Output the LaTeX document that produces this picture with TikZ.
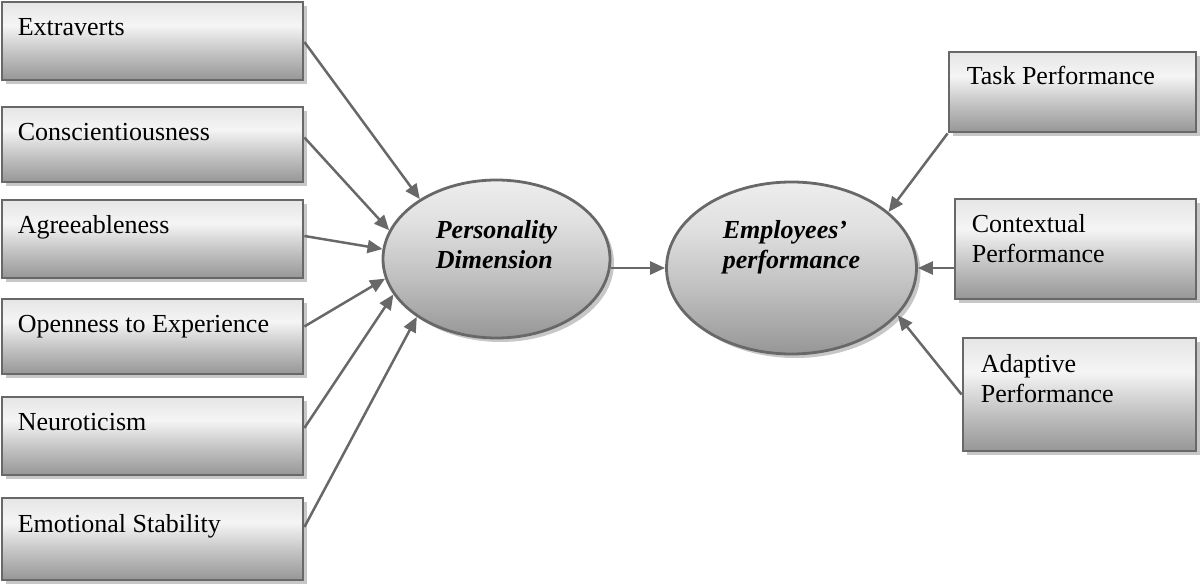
\documentclass[tikz,border=0pt]{standalone}
\usepackage{fontspec}
\setmainfont{Liberation Serif}
\usetikzlibrary{shapes.geometric,arrows.meta,shadows,calc}
\definecolor{bordc}{RGB}{104,104,104}
\definecolor{arrc}{RGB}{104,104,104}
\definecolor{shadc}{RGB}{185,185,185}
\pgfdeclareverticalshading{boxshade}{100bp}{color(0bp)=(gray!82); color(25bp)=(gray!82); color(42bp)=(gray!48); color(60bp)=(white!96!black); color(75bp)=(gray!20); color(100bp)=(gray!20)}
\pgfdeclareverticalshading{ellshade}{100bp}{color(0bp)=(gray!82); color(25bp)=(gray!82); color(45bp)=(gray!48); color(62bp)=(white!88!black); color(75bp)=(white!93!black); color(100bp)=(white!93!black)}
\tikzset{
  box/.style={draw=bordc, line width=2.8pt, shading=boxshade, rectangle, inner sep=0pt,
    drop shadow={shadow xshift=4pt, shadow yshift=-4pt, fill=shadc, opacity=0.8}},
  ell/.style={draw=bordc, line width=2.8pt, shading=ellshade, ellipse, inner sep=0pt,
    drop shadow={shadow xshift=4pt, shadow yshift=-4pt, fill=shadc, opacity=0.8}},
  btext/.style={anchor=base west, inner sep=0pt, align=left, font=\fontsize{26}{30}\selectfont},
  etext/.style={inner sep=0pt, align=left, font=\fontsize{26}{30}\selectfont\bfseries\itshape},
  arr/.style={draw=arrc, line width=2.5pt, -{Triangle[length=15pt,width=13pt]}, arrc},
}
\begin{document}
\begin{tikzpicture}[x=1pt,y=-1pt]
\useasboundingbox (0,0) rectangle (1200,588);
% left boxes
\node[box, minimum width=301pt, minimum height=78pt] (b1) at (152.5,41) {};
\node[box, minimum width=301pt, minimum height=75pt] (b2) at (152.5,144.5) {};
\node[box, minimum width=301pt, minimum height=78pt] (b3) at (152.5,239) {};
\node[box, minimum width=301pt, minimum height=75pt] (b4) at (152.5,336.5) {};
\node[box, minimum width=301pt, minimum height=78pt] (b5) at (152.5,436) {};
\node[box, minimum width=301pt, minimum height=82pt] (b6) at (152.5,539) {};
\node[btext] (t1) at ($(b1.north west)+(17,35)$) {Extraverts};
\node[btext] (t2) at ($(b2.north west)+(17,35)$) {Conscientiousness};
\node[btext] (t3) at ($(b3.north west)+(17,35)$) {Agreeableness};
\node[btext] (t4) at ($(b4.north west)+(17,35)$) {Openness to Experience};
\node[btext] (t5) at ($(b5.north west)+(17,35)$) {Neuroticism};
\node[btext] (t6) at ($(b6.north west)+(17,36)$) {Emotional Stability};
% right boxes
\node[box, minimum width=247pt, minimum height=80pt] (r1) at (1072.5,92) {};
\node[box, minimum width=241pt, minimum height=100pt] (r2) at (1075.5,249) {};
\node[box, minimum width=233pt, minimum height=113pt] (r3) at (1079.5,394.5) {};
\node[btext] (u1) at ($(r1.north west)+(19,34)$) {Task Performance};
\node[btext] (u2) at ($(r2.north west)+(18,65)$) {Contextual\\Performance};
\node[btext] (u3) at ($(r3.north west)+(19,66)$) {Adaptive\\Performance};
% ellipses
\node[ell, minimum width=227pt, minimum height=158pt] (PD) at (496.5,259) {};
\node[ell, minimum width=250pt, minimum height=172pt] (EP) at (791.5,268) {};
\node[etext] (pdt) at ($(PD.center)+(0,-14)$) {Personality\\Dimension};
\node[etext] (ept) at ($(EP.center)+(0,-21)$) {Employees’\\performance};
% connectors left
\draw[arr] ($(b1.east)+(0,1)$) -- (PD.142);
\draw[arr] ($(b2.east)+(0,-7)$) -- (PD.165);
\draw[arr] ($(b3.east)+(0,-3)$) -- (PD.175);
\draw[arr] ($(b4.east)+(0,-10)$) -- (PD.190);
\draw[arr] ($(b5.east)+(0,-8)$) -- (PD.199);
\draw[arr] ($(b6.east)+(0,-12)$) -- (PD.216);
% middle
\coordinate (mstart) at (PD.east |- EP.west);
\draw[arr] (mstart) -- (EP.west);
% connectors right
\draw[arr] (r1.south west) -- (EP.30);
\draw[arr] (r2.west |- EP.east) -- (EP.east);
\draw[arr] (r3.west) -- (EP.336);
\end{tikzpicture}
\end{document}
